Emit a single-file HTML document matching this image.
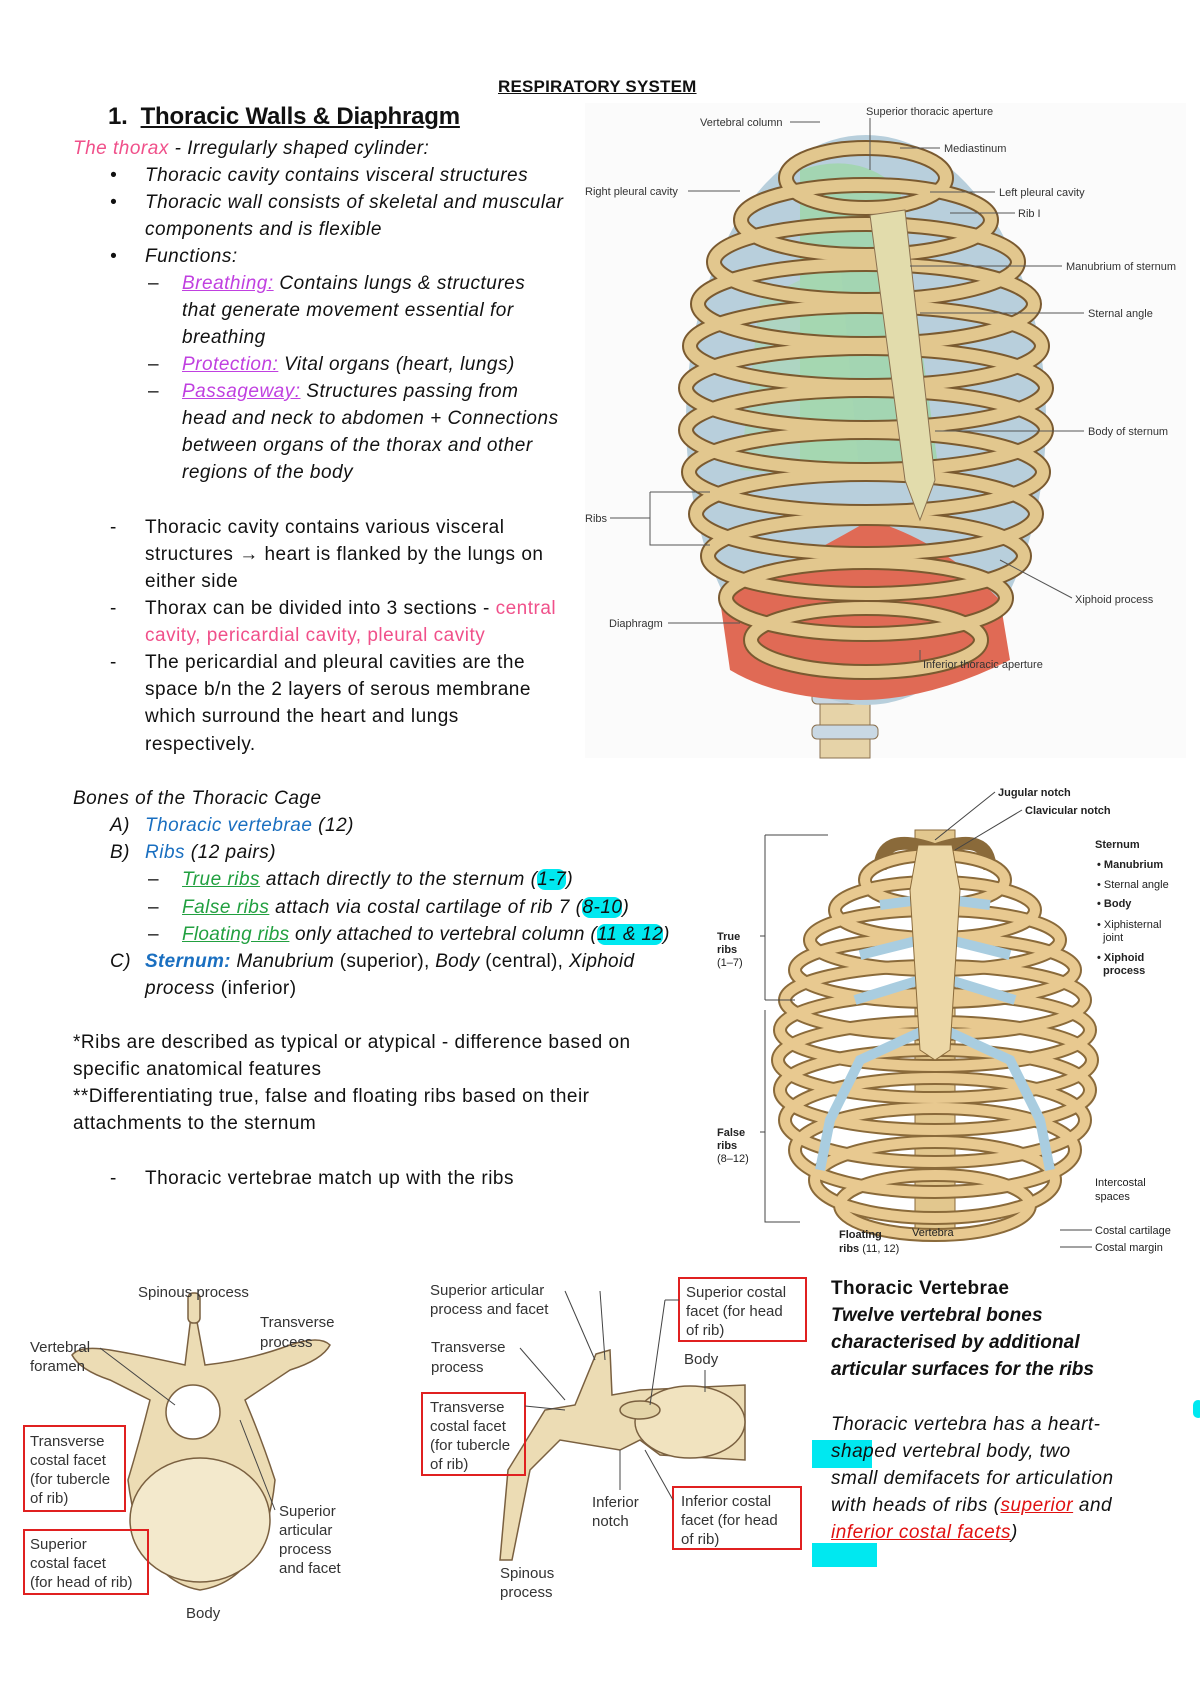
<!DOCTYPE html>
<html><head><meta charset="utf-8">
<style>
body{margin:0;background:#fff;}
#p{position:relative;width:1200px;height:1698px;overflow:hidden;font-family:"Liberation Sans",sans-serif;color:#111;}
.l{position:absolute;font-size:19px;line-height:27px;white-space:nowrap;letter-spacing:0.5px;}
.i{font-style:italic;}
.pk{color:#f0508a;}
.pu{color:#c040e0;text-decoration:underline;}
.bl{color:#1a6fc0;font-weight:bold;font-style:italic;}
.gr{color:#22a040;text-decoration:underline;}
.hl{background:#00e8f0;border-radius:8px;}
.rd{color:#e01010;text-decoration:underline;}
svg text{font-family:"Liberation Sans",sans-serif;}
</style></head><body><div id="p">
<div class="l" style="left:498px;top:73px;font-weight:bold;font-size:17px;letter-spacing:0.2px;text-decoration:underline;">RESPIRATORY SYSTEM</div>
<div class="l" style="left:108px;top:102px;font-weight:bold;font-size:24px;line-height:30px;letter-spacing:-0.2px;">1.&nbsp;&nbsp;<u>Thoracic Walls &amp; Diaphragm</u></div>
<div class="l i" style="left:73px;top:135px;"><span class="pk">The thorax</span> - Irregularly shaped cylinder:</div>
<div class="l i" style="left:110px;top:162px;">•</div><div class="l i" style="left:145px;top:162px;">Thoracic cavity contains visceral structures</div>
<div class="l i" style="left:110px;top:189px;">•</div><div class="l i" style="left:145px;top:189px;">Thoracic wall consists of skeletal and muscular</div>
<div class="l i" style="left:145px;top:216px;">components and is flexible</div>
<div class="l i" style="left:110px;top:243px;">•</div><div class="l i" style="left:145px;top:243px;">Functions:</div>
<div class="l" style="left:148px;top:270px;">–</div><div class="l i" style="left:182px;top:270px;"><span class="pu">Breathing:</span> Contains lungs &amp; structures</div>
<div class="l i" style="left:182px;top:297px;">that generate movement essential for</div>
<div class="l i" style="left:182px;top:324px;">breathing</div>
<div class="l" style="left:148px;top:351px;">–</div><div class="l i" style="left:182px;top:351px;"><span class="pu">Protection:</span> Vital organs (heart, lungs)</div>
<div class="l" style="left:148px;top:378px;">–</div><div class="l i" style="left:182px;top:378px;"><span class="pu">Passageway:</span> Structures passing from</div>
<div class="l i" style="left:182px;top:405px;">head and neck to abdomen + Connections</div>
<div class="l i" style="left:182px;top:432px;">between organs of the thorax and other</div>
<div class="l i" style="left:182px;top:459px;">regions of the body</div>
<div class="l" style="left:110px;top:514px;">-</div><div class="l" style="left:145px;top:514px;">Thoracic cavity contains various visceral</div>
<div class="l" style="left:145px;top:541px;">structures → heart is flanked by the lungs on</div>
<div class="l" style="left:145px;top:568px;">either side</div>
<div class="l" style="left:110px;top:595px;">-</div><div class="l" style="left:145px;top:595px;">Thorax can be divided into 3 sections - <span class="pk">central</span></div>
<div class="l pk" style="left:145px;top:622px;">cavity, pericardial cavity, pleural cavity</div>
<div class="l" style="left:110px;top:649px;">-</div><div class="l" style="left:145px;top:649px;">The pericardial and pleural cavities are the</div>
<div class="l" style="left:145px;top:676px;">space b/n the 2 layers of serous membrane</div>
<div class="l" style="left:145px;top:703px;">which surround the heart and lungs</div>
<div class="l" style="left:145px;top:731px;">respectively.</div>
<div class="l i" style="left:73px;top:785px;">Bones of the Thoracic Cage</div>
<div class="l i" style="left:110px;top:812px;">A)</div><div class="l i" style="left:145px;top:812px;"><span class="bl" style="font-weight:normal">Thoracic vertebrae</span> (12)</div>
<div class="l i" style="left:110px;top:839px;">B)</div><div class="l i" style="left:145px;top:839px;"><span class="bl" style="font-weight:normal">Ribs</span> (12 pairs)</div>
<div class="l" style="left:148px;top:866px;">–</div><div class="l i" style="left:182px;top:866px;"><span class="gr">True ribs</span> attach directly to the sternum (<span class="hl">1-7</span>)</div>
<div class="l" style="left:148px;top:894px;">–</div><div class="l i" style="left:182px;top:894px;"><span class="gr">False ribs</span> attach via costal cartilage of rib 7 (<span class="hl">8-10</span>)</div>
<div class="l" style="left:148px;top:921px;">–</div><div class="l i" style="left:182px;top:921px;letter-spacing:0.3px;"><span class="gr">Floating ribs</span> only attached to vertebral column (<span class="hl">11 &amp; 12</span>)</div>
<div class="l i" style="left:110px;top:948px;">C)</div><div class="l" style="left:145px;top:948px;letter-spacing:0.3px;"><span class="bl">Sternum:</span> <i>Manubrium</i> (superior), <i>Body</i> (central), <i>Xiphoid</i></div>
<div class="l" style="left:145px;top:975px;"><i>process</i> (inferior)</div>
<div class="l" style="left:73px;top:1029px;">*Ribs are described as typical or atypical - difference based on</div>
<div class="l" style="left:73px;top:1056px;">specific anatomical features</div>
<div class="l" style="left:73px;top:1083px;">**Differentiating true, false and floating ribs based on their</div>
<div class="l" style="left:73px;top:1110px;">attachments to the sternum</div>
<div class="l" style="left:110px;top:1165px;">-</div><div class="l" style="left:145px;top:1165px;">Thoracic vertebrae match up with the ribs</div>

<div style="position:absolute;left:812px;top:1440px;width:60px;height:28px;background:#00e8f0;"></div>
<div style="position:absolute;left:812px;top:1543px;width:65px;height:24px;background:#00e8f0;"></div>
<div style="position:absolute;left:1193px;top:1400px;width:10px;height:18px;background:#00e8f0;border-radius:5px;"></div>
<div class="l" style="left:831px;top:1275px;font-weight:bold;letter-spacing:0.4px;">Thoracic Vertebrae</div>
<div class="l i" style="left:831px;top:1302px;font-weight:bold;letter-spacing:0.1px;">Twelve vertebral bones</div>
<div class="l i" style="left:831px;top:1329px;font-weight:bold;letter-spacing:0.1px;">characterised by additional</div>
<div class="l i" style="left:831px;top:1356px;font-weight:bold;letter-spacing:0px;">articular surfaces for the ribs</div>
<div class="l i" style="left:831px;top:1411px;letter-spacing:0.5px;">Thoracic vertebra has a heart-</div>
<div class="l i" style="left:831px;top:1438px;letter-spacing:0.5px;">shaped vertebral body, two</div>
<div class="l i" style="left:831px;top:1465px;letter-spacing:0.5px;">small demifacets for articulation</div>
<div class="l i" style="left:831px;top:1492px;letter-spacing:0.5px;">with heads of ribs (<span class="rd">superior</span> and</div>
<div class="l i" style="left:831px;top:1519px;letter-spacing:0.5px;"><span class="rd">inferior costal facets</span>)</div>

<svg width="1200" height="1698" style="position:absolute;left:0;top:0" xmlns="http://www.w3.org/2000/svg">
<rect x="585" y="103" width="601" height="655" fill="#fbfbfb"/>
<rect x="820" y="640" width="50" height="118" fill="#e6d3a8" stroke="#8a7050"/>
<g stroke="#8a7050" stroke-width="1">
<rect x="812" y="655" width="66" height="14" rx="5" fill="#c9d8e4"/><rect x="812" y="690" width="66" height="14" rx="5" fill="#c9d8e4"/><rect x="812" y="725" width="66" height="14" rx="5" fill="#c9d8e4"/></g>
<ellipse cx="866" cy="420" rx="180" ry="285" fill="#b8cfdc"/>
<path d="M800 170 Q860 150 900 190 L940 480 L800 480 Z" fill="#9ed6a8" opacity="0.8"/>
<path d="M760 300 L840 260 L860 480 L740 470 Z" fill="#a6d9b0" opacity="0.6"/>
<path d="M720 600 Q800 560 870 520 Q940 540 1000 600 L1010 660 Q930 700 860 700 Q780 700 730 670 Z" fill="#e06a55"/>
<g fill="none" stroke="#7a5a30" stroke-width="16">
<ellipse cx="866" cy="178" rx="80" ry="30"/><ellipse cx="866" cy="220" rx="125" ry="35"/><ellipse cx="866" cy="262" rx="152" ry="38"/><ellipse cx="866" cy="304" rx="168" ry="40"/><ellipse cx="866" cy="346" rx="176" ry="40"/><ellipse cx="866" cy="388" rx="180" ry="40"/><ellipse cx="866" cy="430" rx="180" ry="40"/><ellipse cx="866" cy="472" rx="177" ry="40"/><ellipse cx="866" cy="514" rx="170" ry="40"/><ellipse cx="866" cy="556" rx="158" ry="38"/><ellipse cx="866" cy="598" rx="140" ry="36"/><ellipse cx="866" cy="640" rx="115" ry="32"/></g>
<g fill="none" stroke="#e2c78e" stroke-width="12">
<ellipse cx="866" cy="178" rx="80" ry="30"/><ellipse cx="866" cy="220" rx="125" ry="35"/><ellipse cx="866" cy="262" rx="152" ry="38"/><ellipse cx="866" cy="304" rx="168" ry="40"/><ellipse cx="866" cy="346" rx="176" ry="40"/><ellipse cx="866" cy="388" rx="180" ry="40"/><ellipse cx="866" cy="430" rx="180" ry="40"/><ellipse cx="866" cy="472" rx="177" ry="40"/><ellipse cx="866" cy="514" rx="170" ry="40"/><ellipse cx="866" cy="556" rx="158" ry="38"/><ellipse cx="866" cy="598" rx="140" ry="36"/><ellipse cx="866" cy="640" rx="115" ry="32"/></g>
<path d="M870 215 L905 210 L935 480 L920 520 L905 480 Z" fill="#e2dcac" stroke="#8a7050"/>
<g font-size="11" fill="#333" stroke-width="1">
<text x="700" y="126">Vertebral column</text><line x1="790" y1="122" x2="820" y2="122" stroke="#555"/>
<text x="866" y="115">Superior thoracic aperture</text><line x1="870" y1="118" x2="870" y2="170" stroke="#555"/>
<text x="944" y="152">Mediastinum</text><line x1="900" y1="148" x2="940" y2="148" stroke="#555"/>
<text x="585" y="195">Right pleural cavity</text><line x1="688" y1="191" x2="740" y2="191" stroke="#555"/>
<text x="999" y="196">Left pleural cavity</text><line x1="930" y1="192" x2="995" y2="192" stroke="#555"/>
<text x="1018" y="217">Rib I</text><line x1="950" y1="213" x2="1015" y2="213" stroke="#555"/>
<text x="1066" y="270">Manubrium of sternum</text><line x1="910" y1="266" x2="1062" y2="266" stroke="#555"/>
<text x="1088" y="317">Sternal angle</text><line x1="920" y1="313" x2="1084" y2="313" stroke="#555"/>
<text x="1088" y="435">Body of sternum</text><line x1="935" y1="431" x2="1084" y2="431" stroke="#555"/>
<text x="585" y="522">Ribs</text><path d="M610 518 L650 518 M650 492 L650 545 L710 545 M650 492 L710 492" stroke="#555" fill="none"/>
<text x="1075" y="603">Xiphoid process</text><line x1="1000" y1="560" x2="1072" y2="598" stroke="#555"/>
<text x="609" y="627">Diaphragm</text><line x1="668" y1="623" x2="740" y2="623" stroke="#555"/>
<text x="923" y="668">Inferior thoracic aperture</text><line x1="920" y1="650" x2="920" y2="660" stroke="#555"/>
</g>
<rect x="915" y="830" width="40" height="410" fill="#e2c78e" stroke="#8a6a3a"/>
<g fill="none" stroke="#8a6a3a" stroke-width="13">
<path d="M935 850 Q880 830 880 870"/><path d="M935 850 Q990 830 990 870"/>
</g>
<g fill="none" stroke="#8a6a3a" stroke-width="14">
<ellipse cx="935" cy="880" rx="70" ry="25"/><ellipse cx="935" cy="910" rx="100" ry="28"/><ellipse cx="935" cy="940" rx="125" ry="30"/><ellipse cx="935" cy="970" rx="140" ry="32"/><ellipse cx="935" cy="1000" rx="150" ry="34"/><ellipse cx="935" cy="1030" rx="155" ry="36"/><ellipse cx="935" cy="1060" rx="157" ry="38"/><ellipse cx="935" cy="1090" rx="155" ry="40"/><ellipse cx="935" cy="1120" rx="150" ry="42"/><ellipse cx="935" cy="1150" rx="140" ry="42"/><ellipse cx="935" cy="1180" rx="120" ry="38"/><ellipse cx="935" cy="1205" rx="95" ry="30"/></g>
<g fill="none" stroke="#e8c990" stroke-width="10">
<ellipse cx="935" cy="880" rx="70" ry="25"/><ellipse cx="935" cy="910" rx="100" ry="28"/><ellipse cx="935" cy="940" rx="125" ry="30"/><ellipse cx="935" cy="970" rx="140" ry="32"/><ellipse cx="935" cy="1000" rx="150" ry="34"/><ellipse cx="935" cy="1030" rx="155" ry="36"/><ellipse cx="935" cy="1060" rx="157" ry="38"/><ellipse cx="935" cy="1090" rx="155" ry="40"/><ellipse cx="935" cy="1120" rx="150" ry="42"/><ellipse cx="935" cy="1150" rx="140" ry="42"/><ellipse cx="935" cy="1180" rx="120" ry="38"/><ellipse cx="935" cy="1205" rx="95" ry="30"/></g>
<g fill="none" stroke="#a9cde0" stroke-width="10">
<path d="M920 900 L880 905 M950 900 L990 905 M920 940 L860 955 M950 940 L1010 955 M920 980 L855 1000 M950 980 L1015 1000 M925 1030 L860 1060 L830 1120 L820 1170 M945 1030 L1010 1060 L1040 1120 L1050 1170"/></g>
<path d="M918 845 L952 845 L960 890 L950 1050 L935 1060 L920 1050 L910 890 Z" fill="#ecd7a6" stroke="#8a6a3a"/>
<g font-size="11" fill="#222">
<text x="998" y="796" font-weight="bold">Jugular notch</text><line x1="935" y1="840" x2="995" y2="792" stroke="#444"/>
<text x="1025" y="814" font-weight="bold">Clavicular notch</text><line x1="955" y1="850" x2="1022" y2="810" stroke="#444"/>
<text x="1095" y="848" font-weight="bold">Sternum</text>
<text x="1097" y="868" font-weight="bold">• Manubrium</text>
<text x="1097" y="888">• Sternal angle</text>
<text x="1097" y="907" font-weight="bold">• Body</text>
<text x="1097" y="928">• Xiphisternal</text><text x="1103" y="941">joint</text>
<text x="1097" y="961" font-weight="bold">• Xiphoid</text><text x="1103" y="974" font-weight="bold">process</text>
<text x="717" y="940" font-weight="bold">True</text><text x="717" y="953" font-weight="bold">ribs</text><text x="717" y="966">(1–7)</text>
<text x="717" y="1136" font-weight="bold">False</text><text x="717" y="1149" font-weight="bold">ribs</text><text x="717" y="1162">(8–12)</text>
<path d="M760 936 L765 936 M765 835 L765 1000 M765 835 L828 835 M765 1000 L795 1000 M760 1132 L765 1132 M765 1010 L765 1222 L800 1222" stroke="#444" fill="none"/>
<text x="1095" y="1186">Intercostal</text><text x="1095" y="1200">spaces</text>
<text x="1095" y="1234">Costal cartilage</text><text x="1095" y="1251">Costal margin</text>
<line x1="1060" y1="1230" x2="1092" y2="1230" stroke="#444"/><line x1="1060" y1="1247" x2="1092" y2="1247" stroke="#444"/>
<text x="839" y="1238" font-weight="bold">Floating</text><text x="839" y="1252"><tspan font-weight="bold">ribs</tspan> (11, 12)</text>
<text x="912" y="1236">Vertebra</text>
</g>
<g fill="#ecdcb4" stroke="#7a6040" stroke-width="1.5">
<path d="M193 1300 L185 1365 Q140 1355 110 1350 Q80 1345 72 1355 Q80 1370 110 1380 L150 1400 Q140 1440 128 1480 Q140 1580 200 1590 Q265 1580 275 1480 Q262 1440 245 1400 L290 1370 Q322 1360 330 1345 Q320 1335 290 1345 Q250 1360 205 1365 Z"/>
<ellipse cx="200" cy="1520" rx="70" ry="62" fill="#f3e9cc"/>
<circle cx="193" cy="1412" r="27" fill="#fff"/>
<rect x="188" y="1293" width="12" height="30" rx="5"/>
</g>
<g font-size="15" fill="#333">
<text x="138" y="1297">Spinous process</text>
<text x="260" y="1327">Transverse</text><text x="260" y="1347">process</text>
<text x="30" y="1352">Vertebral</text><text x="30" y="1371">foramen</text>
<line x1="100" y1="1348" x2="175" y2="1405" stroke="#444"/>
<text x="279" y="1516">Superior</text><text x="279" y="1535">articular</text><text x="279" y="1554">process</text><text x="279" y="1573">and facet</text>
<line x1="275" y1="1510" x2="240" y2="1420" stroke="#444"/>
<text x="186" y="1618">Body</text>
<rect x="24" y="1426" width="101" height="85" fill="none" stroke="#e02020" stroke-width="2"/>
<text x="30" y="1446">Transverse</text><text x="30" y="1465">costal facet</text><text x="30" y="1484">(for tubercle</text><text x="30" y="1503">of rib)</text>
<rect x="24" y="1530" width="124" height="64" fill="none" stroke="#e02020" stroke-width="2"/>
<text x="30" y="1549">Superior</text><text x="30" y="1568">costal facet</text><text x="30" y="1587">(for head of rib)</text>
</g>
<g fill="#ecdcb4" stroke="#7a6040" stroke-width="1.5">
<path d="M596 1354 L610 1350 L612 1395 L640 1390 L745 1385 L745 1460 L660 1455 L640 1440 L620 1450 L560 1440 L530 1470 L512 1560 L500 1560 L508 1470 L545 1410 L575 1405 Z"/>
<ellipse cx="690" cy="1422" rx="55" ry="36" fill="#f1e3bf"/>
<ellipse cx="640" cy="1410" rx="20" ry="9" fill="#e4d4a8"/>
</g>
<g font-size="15" fill="#333" stroke-width="1">
<text x="430" y="1295">Superior articular</text><text x="430" y="1314">process and facet</text>
<line x1="565" y1="1291" x2="595" y2="1360" stroke="#444"/><line x1="600" y1="1291" x2="605" y2="1360" stroke="#444"/>
<text x="431" y="1352">Transverse</text><text x="431" y="1372">process</text>
<line x1="520" y1="1348" x2="565" y2="1400" stroke="#444"/>
<rect x="679" y="1278" width="127" height="63" fill="none" stroke="#e02020" stroke-width="2"/>
<text x="686" y="1297">Superior costal</text><text x="686" y="1316">facet (for head</text><text x="686" y="1335">of rib)</text>
<line x1="679" y1="1300" x2="665" y2="1300" stroke="#444"/><line x1="665" y1="1300" x2="650" y2="1405" stroke="#444"/>
<text x="684" y="1364">Body</text><line x1="705" y1="1370" x2="705" y2="1392" stroke="#444"/>
<rect x="422" y="1393" width="103" height="82" fill="none" stroke="#e02020" stroke-width="2"/>
<text x="430" y="1412">Transverse</text><text x="430" y="1431">costal facet</text><text x="430" y="1450">(for tubercle</text><text x="430" y="1469">of rib)</text>
<line x1="525" y1="1406" x2="565" y2="1410" stroke="#444"/>
<text x="592" y="1507">Inferior</text><text x="592" y="1526">notch</text><line x1="620" y1="1490" x2="620" y2="1450" stroke="#444"/>
<rect x="673" y="1487" width="128" height="62" fill="none" stroke="#e02020" stroke-width="2"/>
<text x="681" y="1506">Inferior costal</text><text x="681" y="1525">facet (for head</text><text x="681" y="1544">of rib)</text>
<line x1="673" y1="1500" x2="645" y2="1450" stroke="#444"/>
<text x="500" y="1578">Spinous</text><text x="500" y="1597">process</text>
</g>
</svg>
</div></body></html>
